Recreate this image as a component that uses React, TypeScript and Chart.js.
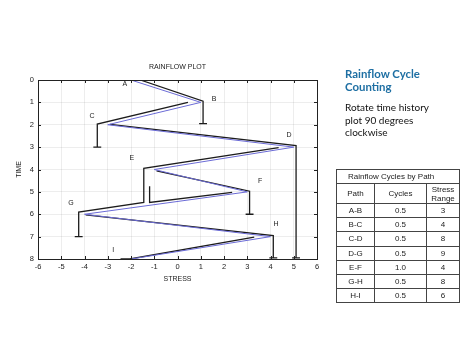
import React, { useEffect, useRef } from "react";
import { Chart, registerables } from "chart.js";

Chart.register(...registerables);

// ---- Data ----
const xTicks = [-6, -5, -4, -3, -2, -1, 0, 1, 2, 3, 4, 5, 6];
const yTicks = [0, 1, 2, 3, 4, 5, 6, 7, 8];

// Time history (rotated: stress on x, time on y)
const pointNames = ["A", "B", "C", "D", "E", "F", "G", "H", "I"];
const historyStress = [-2, 1, -3, 5, -1, 3, -4, 4, -2];
const historyTime = [0, 1, 2, 3, 4, 5, 6, 7, 8];

// Point label placement
const labelStress = [-2.26, 1.57, -3.68, 4.8, -1.96, 3.55, -4.58, 4.24, -2.77];
const labelTime = [0.18, 0.85, 1.61, 2.46, 3.48, 4.51, 5.49, 6.43, 7.59];

// Rain flow paths (black)
const flowAB_s = [-1.6, 1.1, 1.1];
const flowAB_t = [0, 0.95, 1.95];
const flowBC_s = [0.45, -3.45, -3.45];
const flowBC_t = [1.0, 1.97, 3.0];
const flowCD_s = [-2.9, 5.1, 5.1];
const flowCD_t = [1.98, 2.93, 7.95];
const flowDG_s = [4.35, -1.45, -1.45, -4.25, -4.25];
const flowDG_t = [3.02, 3.95, 5.47, 5.9, 7.0];
const flowEF_s = [-0.9, 3.1, 3.1];
const flowEF_t = [4.06, 4.97, 6.0];
const flowFE_s = [2.35, -1.2, -1.2];
const flowFE_t = [5.02, 5.47, 4.75];
const flowGH_s = [-3.95, 4.12, 4.12];
const flowGH_t = [6.03, 6.95, 7.95];
const flowHI_s = [3.3, -2.05, -2.45];
const flowHI_t = [7.02, 8.0, 8.0];

const flowPaths = [
  { s: flowAB_s, t: flowAB_t, cap: true },
  { s: flowBC_s, t: flowBC_t, cap: true },
  { s: flowCD_s, t: flowCD_t, cap: true },
  { s: flowDG_s, t: flowDG_t, cap: true },
  { s: flowEF_s, t: flowEF_t, cap: true },
  { s: flowFE_s, t: flowFE_t, cap: false },
  { s: flowGH_s, t: flowGH_t, cap: true },
  { s: flowHI_s, t: flowHI_t, cap: false },
];
const capHalfWidth = 0.17;

// Table data
const tablePaths = ["A-B", "B-C", "C-D", "D-G", "E-F", "G-H", "H-I"];
const tableCycles = ["0.5", "0.5", "0.5", "0.5", "1.0", "0.5", "0.5"];
const tableRanges = [3, 4, 8, 9, 4, 8, 6];

const FONT = "'Liberation Sans', Arial, sans-serif";

function pathPoints(p: { s: number[]; t: number[]; cap: boolean }) {
  const pts = p.s.map((s, i) => ({ x: s, y: p.t[i] }));
  if (p.cap) {
    const last = pts[pts.length - 1];
    pts.push({ x: last.x - capHalfWidth, y: last.y });
    pts.push({ x: last.x + capHalfWidth, y: last.y });
  }
  return pts;
}

const framePlugin = {
  id: "frameAndLabels",
  afterDatasetsDraw(chart: any) {
    const { ctx, chartArea } = chart;
    const xs = chart.scales.x;
    const ys = chart.scales.y;
    ctx.save();
    ctx.strokeStyle = "#222";
    ctx.lineWidth = 1;
    ctx.strokeRect(
      Math.round(chartArea.left) + 0.5,
      Math.round(chartArea.top) + 0.5,
      Math.round(chartArea.right - chartArea.left),
      Math.round(chartArea.bottom - chartArea.top)
    );
    ctx.beginPath();
    const tl = 3;
    xTicks.forEach((v) => {
      const px = Math.round(xs.getPixelForValue(v)) + 0.5;
      ctx.moveTo(px, chartArea.top);
      ctx.lineTo(px, chartArea.top + tl);
      ctx.moveTo(px, chartArea.bottom);
      ctx.lineTo(px, chartArea.bottom - tl);
    });
    yTicks.forEach((v) => {
      const py = Math.round(ys.getPixelForValue(v)) + 0.5;
      ctx.moveTo(chartArea.left, py);
      ctx.lineTo(chartArea.left + tl, py);
      ctx.moveTo(chartArea.right, py);
      ctx.lineTo(chartArea.right - tl, py);
    });
    ctx.stroke();
    // point letters
    ctx.fillStyle = "#222";
    ctx.font = `7px ${FONT}`;
    ctx.textAlign = "center";
    ctx.textBaseline = "middle";
    pointNames.forEach((n, i) => {
      ctx.fillText(n, xs.getPixelForValue(labelStress[i]), ys.getPixelForValue(labelTime[i]));
    });
    ctx.restore();
  },
};

function RainflowChart() {
  const ref = useRef<HTMLCanvasElement | null>(null);
  useEffect(() => {
    if (!ref.current) return;
    const datasets: any[] = [];
    datasets.push({
      label: "history",
      data: historyStress.map((s, i) => ({ x: s, y: historyTime[i] })),
      showLine: true,
      borderColor: "#6b6bd6",
      borderWidth: 1,
      pointRadius: 0,
      fill: false,
    });
    flowPaths.forEach((p, i) => {
      datasets.push({
        label: "flow" + i,
        data: pathPoints(p),
        showLine: true,
        borderColor: "#1c1c1c",
        borderWidth: 1.3,
        pointRadius: 0,
        fill: false,
      });
    });
    const chart = new Chart(ref.current, {
      type: "scatter",
      data: { datasets },
      options: {
        animation: false,
        responsive: false,
        devicePixelRatio: 1,
        layout: { padding: { left: 0, top: 0, right: 157, bottom: 66 } },
        plugins: {
          legend: { display: false },
          tooltip: { enabled: false },
          title: {
            display: true,
            text: "RAINFLOW PLOT",
            color: "#222",
            fullSize: false,
            font: { family: FONT, size: 7, weight: "normal", lineHeight: 1.2 },
            padding: { top: 62.8, bottom: 8.8 },
          },
        },
        scales: {
          x: {
            type: "linear",
            min: -6,
            max: 6,
            afterBuildTicks: (scale: any) => {
              scale.ticks = xTicks.map((v) => ({ value: v }));
            },
            afterFit: (scale: any) => {
              scale.height = 30;
            },
            grid: { color: "rgba(0,0,0,0.07)", drawTicks: false },
            border: { display: false },
            ticks: { color: "#222", padding: 3, font: { family: FONT, size: 7.5 } },
            title: {
              display: true,
              text: "STRESS",
              color: "#222",
              font: { family: FONT, size: 7, lineHeight: 1.2 },
              padding: { top: 0, bottom: 5.8 },
            },
          },
          y: {
            type: "linear",
            reverse: true,
            min: 0,
            max: 8,
            afterBuildTicks: (scale: any) => {
              scale.ticks = yTicks.map((v) => ({ value: v }));
            },
            afterFit: (scale: any) => {
              scale.width = 38;
            },
            grid: { color: "rgba(0,0,0,0.07)", drawTicks: false },
            border: { display: false },
            ticks: { color: "#222", padding: 4, font: { family: FONT, size: 7.5 } },
            title: {
              display: true,
              text: "TIME",
              color: "#222",
              font: { family: FONT, size: 7, lineHeight: 1.2 },
              padding: { top: 15, bottom: 0 },
            },
          },
        },
      },
      plugins: [framePlugin],
    });
    return () => chart.destroy();
  }, []);
  return (
    <canvas
      ref={ref}
      width={474}
      height={355}
      style={{ position: "absolute", left: 0, top: 0, width: 474, height: 355 }}
    />
  );
}

export default function App() {
  const cell: React.CSSProperties = {
    border: "1px solid #444",
    padding: 0,
    textAlign: "center",
    verticalAlign: "middle",
    height: 13.2,
    lineHeight: "9px",
  };
  return (
    <div
      style={{
        position: "fixed",
        left: 0,
        top: 0,
        width: 474,
        height: 355,
        background: "#fff",
        overflow: "hidden",
      }}
    >
      <RainflowChart />
      <div
        style={{
          position: "absolute",
          left: 345,
          top: 66.8,
          fontFamily: "Lato, 'Open Sans', sans-serif",
          fontWeight: 700,
          fontSize: 11.4,
          lineHeight: "13.4px",
          color: "#1e6fa3",
          whiteSpace: "nowrap",
        }}
      >
        Rainflow Cycle
        <br />
        Counting
      </div>
      <div
        style={{
          position: "absolute",
          left: 345,
          top: 101.4,
          fontFamily: "Lato, 'Open Sans', sans-serif",
          fontSize: 10,
          lineHeight: "12.2px",
          color: "#111",
          whiteSpace: "nowrap",
        }}
      >
        Rotate time history
        <br />
        plot 90 degrees
        <br />
        clockwise
      </div>
      <table
        style={{
          position: "absolute",
          left: 336,
          top: 169,
          width: 123,
          borderCollapse: "collapse",
          tableLayout: "fixed",
          fontFamily: FONT,
          fontSize: 8,
          color: "#222",
        }}
      >
        <colgroup>
          <col style={{ width: 38 }} />
          <col style={{ width: 52 }} />
          <col style={{ width: 33 }} />
        </colgroup>
        <tbody>
          <tr>
            <td colSpan={3} style={{ ...cell, height: 13, textAlign: "left", paddingLeft: 11 }}>
              Rainflow Cycles by Path
            </td>
          </tr>
          <tr>
            <td style={{ ...cell, height: 19 }}>Path</td>
            <td style={{ ...cell, height: 19 }}>Cycles</td>
            <td style={{ ...cell, height: 19 }}>
              Stress
              <br />
              Range
            </td>
          </tr>
          {tablePaths.map((p, i) => (
            <tr key={p}>
              <td style={cell}>{p}</td>
              <td style={cell}>{tableCycles[i]}</td>
              <td style={cell}>{tableRanges[i]}</td>
            </tr>
          ))}
        </tbody>
      </table>
    </div>
  );
}
